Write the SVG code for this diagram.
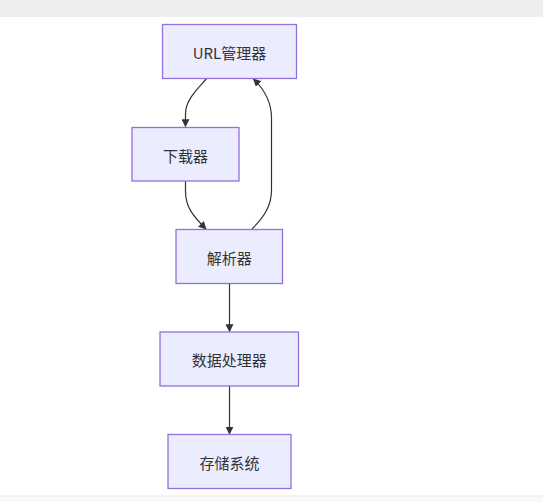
<svg xmlns="http://www.w3.org/2000/svg" width="543" height="502" viewBox="0 0 543 502">
<style>
.node rect{fill:#ECECFF;stroke:#9370DB;stroke-width:1.3px}
.node text{font-family:"Noto Sans CJK SC","Liberation Sans",sans-serif;font-size:15px;fill:#333;text-anchor:middle;dominant-baseline:central}
.edge{fill:none;stroke:#333;stroke-width:1.2px}
</style>
<defs>
<marker id="arrow" viewBox="0 0 10 10" refX="9" refY="5" markerWidth="8" markerHeight="8" markerUnits="userSpaceOnUse" orient="auto">
<path d="M0,0 L10,5 L0,10 z" fill="#333"/>
</marker>
</defs>
<rect x="0" y="0" width="543" height="17" fill="#eeeeee"/>
<rect x="0" y="496" width="543" height="6" fill="#fafafa"/>
<line x1="0" y1="496" x2="543" y2="496" stroke="#e6e6e6" stroke-width="1"/>
<g id="connectors">
<path class="edge" d="M206.5,78.5 C196,91 185.5,100 185.5,114 L185.5,126.5" marker-end="url(#arrow)"/>
<path class="edge" d="M185.5,181 L185.5,192 C185.5,208 195,218 206,229" marker-end="url(#arrow)"/>
<path class="edge" d="M252,229 C265,216 271.5,205 271.5,190 L271.5,118 C271.5,102 265,90 253.5,79" marker-end="url(#arrow)"/>
<path class="edge" d="M229.5,283.5 L229.5,331.5" marker-end="url(#arrow)"/>
<path class="edge" d="M229.5,386 L229.5,434" marker-end="url(#arrow)"/>
</g>
<g id="url" class="node"><rect x="162.5" y="24.5" width="134" height="54"/><text x="229.5" y="52">URL管理器</text></g>
<g id="downloader" class="node"><rect x="132" y="127.5" width="107" height="53.5"/><text x="185.5" y="155">下载器</text></g>
<g id="parser" class="node"><rect x="176" y="229.5" width="106.5" height="54"/><text x="229.2" y="257">解析器</text></g>
<g id="processor" class="node"><rect x="160" y="332" width="138.5" height="54"/><text x="229.2" y="359.5">数据处理器</text></g>
<g id="storage" class="node"><rect x="168" y="434.5" width="123" height="54"/><text x="229.5" y="462">存储系统</text></g>
</svg>
